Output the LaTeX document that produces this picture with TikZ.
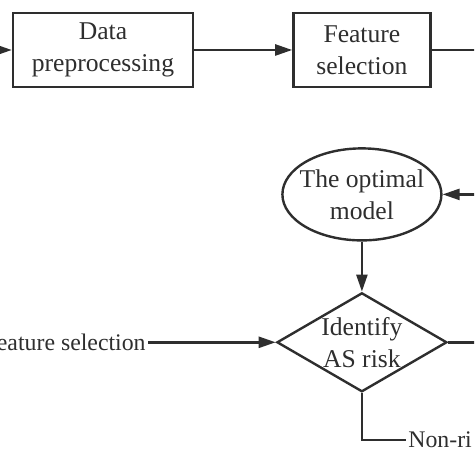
\documentclass[tikz,border=0pt]{standalone}
\usepackage{fontspec}
\setmainfont{Liberation Serif}
\usetikzlibrary{arrows.meta, positioning, shapes.geometric}
\definecolor{flowgray}{HTML}{2E2E2E}

\begin{document}
\begin{tikzpicture}[
      box/.style={rectangle, draw=flowgray, line width=1.2pt, text=flowgray,
                  minimum height=37pt, inner sep=0pt, align=center,
                  font=\fontsize{12.8pt}{16pt}\selectfont},
      model/.style={ellipse, draw=flowgray, line width=1.2pt, text=flowgray,
                  minimum width=79.5pt, minimum height=46pt, inner xsep=-3pt, inner ysep=0pt,
                  align=center, font=\fontsize{12.8pt}{16pt}\selectfont},
      decide/.style={diamond, aspect=1.72, draw=flowgray, line width=1.2pt, text=flowgray,
                  minimum width=85pt, minimum height=49.5pt, inner sep=-1pt, align=center,
                  font=\fontsize{12.8pt}{16pt}\selectfont},
      lbl/.style={text=flowgray, inner sep=1pt, font=\fontsize{11.9pt}{14pt}\selectfont},
      arr/.style={-{Triangle[length=8.5pt, width=5.5pt]}, line width=1.2pt, flowgray},
      conn/.style={line width=1.2pt, flowgray}
    ]
      \clip (0,0) rectangle (237pt,-237pt);
      \node[box, minimum width=90pt] (prep) at (51.5pt,-25pt) {Data\\preprocessing};
      \node[box, minimum width=68.5pt, right=49pt of prep] (fsel) {Feature\\selection};
      \node[model, below=29.5pt of fsel] (best) {The optimal\\model};
      \node[decide, below=25pt of best] (risk) {Identify\\AS risk};
      \node[lbl, anchor=east] (featin) at (74pt,-171pt) {eature selection};
      \node[lbl, anchor=west] (nonrisk) at (203pt,-220pt) {Non-ri};
      % ends running off the picture
      \coordinate (inleft) at (-4pt,-25pt);
      \coordinate (outtop) at (240pt,-25pt);
      \coordinate (inmodel) at (best.east -| outtop);
      \coordinate (outrisk) at (risk.east -| outtop);
      \coordinate (turn) at (risk.south |- nonrisk.west);
      \draw[arr] (inleft) -- (prep);
      \draw[arr] (prep) -- (fsel);
      \draw[conn] (fsel) -- (outtop);
      \draw[arr] (inmodel) -- (best);
      \draw[arr] (best) -- (risk);
      \draw[arr] (featin.east |- risk.west) -- (risk.west);
      \draw[conn] (risk.east) -- (outrisk);
      \draw[conn] (risk.south) -- (turn) -- (nonrisk.west);
    \end{tikzpicture}
\end{document}
